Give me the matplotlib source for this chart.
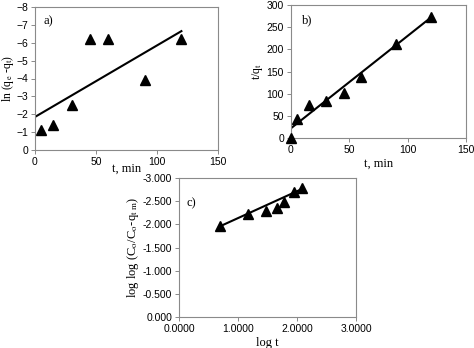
import matplotlib

matplotlib.use("Agg")
import matplotlib.pyplot as plt

plt.rcParams["mathtext.fontset"] = "stix"

# panel a) pseudo-first order
t_a = [5, 15, 30, 45, 60, 90, 120]
y_a = [-1.1, -1.4, -2.5, -6.2, -6.2, -3.9, -6.2]
fit_a_x = [0, 120]
fit_a_y = [-1.85, -6.65]

# panel b) pseudo-second order
t_b = [0, 5, 15, 30, 45, 60, 90, 120]
y_b = [0, 42, 75, 83, 102, 137, 213, 272]
fit_b_x = [0, 120]
fit_b_y = [22, 272]

# panel c) Bangham
logt_c = [0.699, 1.176, 1.477, 1.653, 1.778, 1.954, 2.079]
y_c = [-1.97, -2.23, -2.28, -2.36, -2.49, -2.69, -2.79]
fit_c_x = [0.699, 2.079]
fit_c_y = [-1.96, -2.76]

W, H = 474, 348
SERIF = "Liberation Serif"
TICK_FONT = "Liberation Sans"


def frame(ax):
    for s in ax.spines.values():
        s.set_color("#8a8a8a")
        s.set_linewidth(0.8)
    ax.tick_params(direction="out", length=3, width=0.7, color="#8a8a8a",
                   labelsize=7.5, pad=2)
    for lab in ax.get_xticklabels() + ax.get_yticklabels():
        lab.set_fontfamily(TICK_FONT)


def rect(left, top, right, bottom):
    return [left / W, 1 - bottom / H, (right - left) / W, (bottom - top) / H]


fig = plt.figure(figsize=(W / 100, H / 100), dpi=100)

ax = fig.add_axes(rect(35, 7, 218, 150))
ax.plot(fit_a_x, fit_a_y, color="black", lw=1.5)
ax.plot(t_a, y_a, "^", color="black", ms=6.5, clip_on=False)
ax.set_xlim(0, 150)
ax.set_ylim(0, -8)
ax.set_xticks([0, 50, 100, 150])
ax.set_yticks(range(0, -9, -1))
ax.set_xlabel("t, min", family=SERIF, fontsize=9, labelpad=-3)
ax.set_ylabel("ln (q$_\\mathrm{e}$ -q$_\\mathrm{t}$)", family=SERIF, fontsize=8.5, labelpad=0)
ax.text(0.045, 0.88, "a)", transform=ax.transAxes, family=SERIF, fontsize=9)
frame(ax)

ax = fig.add_axes(rect(291, 5, 466, 138))
ax.plot(fit_b_x, fit_b_y, color="black", lw=1.5)
ax.plot(t_b, y_b, "^", color="black", ms=6.5, clip_on=False, zorder=3)
ax.set_xlim(0, 150)
ax.set_ylim(0, 300)
ax.set_xticks([0, 50, 100, 150])
ax.set_yticks(range(0, 301, 50))
ax.set_xlabel("t, min", family=SERIF, fontsize=9, labelpad=2)
ax.set_ylabel("t/q$_\\mathrm{t}$", family=SERIF, fontsize=8.5, labelpad=1)
ax.text(0.06, 0.86, "b)", transform=ax.transAxes, family=SERIF, fontsize=9)
frame(ax)

ax = fig.add_axes(rect(179, 178, 356, 317))
ax.plot(fit_c_x, fit_c_y, color="black", lw=1.5)
ax.plot(logt_c, y_c, "^", color="black", ms=6.5, clip_on=False)
ax.set_xlim(0, 3)
ax.set_ylim(0, -3)
ax.set_xticks([0, 1, 2, 3])
ax.set_xticklabels(["0.0000", "1.0000", "2.0000", "3.0000"])
ax.set_yticks([0, -0.5, -1, -1.5, -2, -2.5, -3])
ax.set_yticklabels(["0.000", "-0.500", "-1.000", "-1.500", "-2.000", "-2.500", "-3.000"])
ax.set_xlabel("log t", family=SERIF, fontsize=9, labelpad=2)
ax.set_ylabel("log log (C$_\\mathrm{o}$/C$_\\mathrm{o}$-q$_\\mathrm{t\\ m}$)", family=SERIF,
              fontsize=9, labelpad=1)
ax.text(0.04, 0.8, "c)", transform=ax.transAxes, family=SERIF, fontsize=9)
frame(ax)

fig.savefig("out.png", dpi=100)
